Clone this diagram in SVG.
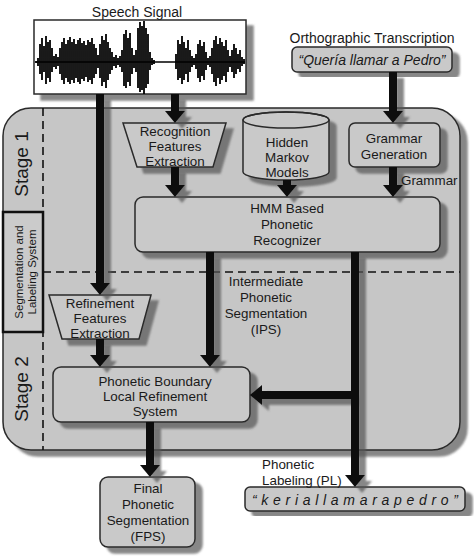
<svg xmlns="http://www.w3.org/2000/svg" width="474" height="557" viewBox="0 0 474 557">
<style>
text{font-family:"Liberation Sans",Arial,sans-serif;font-size:13.4px;fill:#1a1a1a}
.c{text-anchor:middle}
.box{fill:#c9c9c9;stroke:#2a2a2a;stroke-width:1.5}
.dash{stroke:#111;stroke-width:1.6;stroke-dasharray:8,5;fill:none}
.arr{stroke:#0d0d0d;stroke-width:8;fill:none;marker-end:url(#ah)}
</style>
<defs>
<filter id="sh" x="-10%" y="-10%" width="130%" height="130%">
<feDropShadow dx="7" dy="6" stdDeviation="1.2" flood-color="#555" flood-opacity="0.7"/>
</filter>
<marker id="ah" markerUnits="userSpaceOnUse" markerWidth="12" markerHeight="20" viewBox="0 0 12 20" refX="0.5" refY="10" orient="auto">
<path d="M0,0 L12,10 L0,20 z" fill="#0d0d0d"/>
</marker>
</defs>
<rect width="474" height="557" fill="#fff"/>

<g id="main-frame">
<rect x="3" y="108" width="457" height="342" rx="28" fill="#c6c6c6" stroke="#2a2a2a" stroke-width="1.5" filter="url(#sh)"/>
<line class="dash" x1="43" y1="108" x2="43" y2="450"/>
<line class="dash" x1="43" y1="272" x2="460" y2="272"/>
<text transform="translate(28,164) rotate(-90)" class="c" style="font-size:19px">Stage 1</text>
<text transform="translate(28,389) rotate(-90)" class="c" style="font-size:19px">Stage 2</text>
</g>

<g id="seg-label-system">
<rect x="3" y="212" width="40" height="120" fill="#cbcbcb" stroke="#111" stroke-width="2.5"/>
<text transform="translate(23,272) rotate(-90)" class="c" style="font-size:11.5px">Segmentation  and</text>
<text transform="translate(36,272) rotate(-90)" class="c" style="font-size:11.5px">Labeling System</text>
</g>

<g id="speech-signal">
<text x="137" y="17" class="c" style="font-size:14px">Speech Signal</text>
<rect x="34" y="20" width="212" height="74" fill="#fff" stroke="#2a2a2a" stroke-width="1.5" filter="url(#sh)"/>
<line x1="36" y1="62" x2="245" y2="62" stroke="#000" stroke-width="1.5"/>
<path stroke="#000" stroke-width="1.8" fill="none" d="M36,61V63M38,58V66M40,44V74M42,38V80M44,46V72M46,36V84M48,42V78M50,40V82M52,48V72M54,56V67M56,54V69M58,57V66M60,48V74M62,42V80M64,38V84M66,44V78M68,40V82M70,37V84M72,42V80M74,39V83M76,44V78M78,40V82M80,38V84M82,43V79M84,41V81M86,45V77M88,40V82M90,42V80M92,38V84M94,44V78M96,48V74M98,55V68M100,44V78M102,36V86M104,40V82M106,34V88M108,42V80M110,48V74M112,52V70M114,57V66M116,55V68M118,58V65M120,56V67M122,50V72M124,34V86M126,30V88M128,38V82M130,33V86M132,48V74M134,55V68M136,50V72M138,28V88M140,22V92M142,26V90M144,21V94M146,28V88M148,34V84M150,52V70M152,58V65M154,60V64M176,54V69M178,40V80M180,44V78M182,36V84M184,42V80M186,48V74M188,40V82M190,50V72M192,56V67M194,58V65M196,54V69M198,44V78M200,40V82M202,46V76M204,42V80M206,52V70M208,58V65M210,56V67M212,48V74M214,40V82M216,36V86M218,44V78M220,38V84M222,42V80M224,46V76M226,40V82M228,50V72M230,56V67M232,50V72M234,44V78M236,48V74M238,54V69M240,50V72M242,57V66M244,59V64"/>
</g>

<g id="ortho-transcription">
<text x="372" y="43" class="c" style="font-size:14px">Orthographic Transcription</text>
<rect x="292" y="47" width="160" height="25" rx="5" class="box" filter="url(#sh)"/>
<text x="372" y="65" class="c" style="font-style:italic;font-size:14px">“Quería llamar a Pedro”</text>
</g>

<g id="recognition-features">
<polygon points="123,123 226,123 213,167 137,167" class="box" filter="url(#sh)"/>
<text x="175" y="136" class="c">Recognition</text>
<text x="175" y="151" class="c">Features</text>
<text x="175" y="166" class="c">Extraction</text>
</g>

<g id="hmm-models">
<path d="M243,120 V172 A43,8 0 0 0 329,172 V120 A43,8 0 0 0 243,120 Z" class="box" filter="url(#sh)"/>
<ellipse cx="286" cy="120" rx="43" ry="8" fill="none" stroke="#2a2a2a" stroke-width="1.5"/>
<text x="287" y="147" class="c">Hidden</text>
<text x="287" y="162" class="c">Markov</text>
<text x="287" y="177" class="c">Models</text>
</g>

<g id="grammar-generation">
<rect x="349" y="123" width="91" height="44" rx="6" class="box" filter="url(#sh)"/>
<text x="394" y="143" class="c">Grammar</text>
<text x="394" y="159" class="c">Generation</text>
</g>

<g id="hmm-recognizer">
<rect x="135" y="197" width="305" height="55" rx="8" class="box" filter="url(#sh)"/>
<text x="287" y="213" class="c">HMM Based</text>
<text x="287" y="229" class="c">Phonetic</text>
<text x="287" y="245" class="c">Recognizer</text>
</g>

<g id="refinement-features">
<polygon points="49,295 151,295 139,339 62,339" class="box" filter="url(#sh)"/>
<text x="100" y="308" class="c">Refinement</text>
<text x="100" y="323" class="c">Features</text>
<text x="100" y="338" class="c">Extraction</text>
</g>

<g id="boundary-refinement">
<rect x="53" y="367" width="197" height="55" rx="8" class="box" filter="url(#sh)"/>
<text x="155" y="386" class="c">Phonetic Boundary</text>
<text x="155" y="401" class="c">Local Refinement</text>
<text x="155" y="416" class="c">System</text>
</g>

<g id="final-segmentation">
<rect x="100" y="477" width="95" height="70" rx="8" class="box" filter="url(#sh)"/>
<text x="148" y="493" class="c">Final</text>
<text x="148" y="509" class="c">Phonetic</text>
<text x="148" y="525" class="c">Segmentation</text>
<text x="148" y="541" class="c">(FPS)</text>
</g>

<g id="phonetic-labeling">
<rect x="245" y="487" width="220" height="24" rx="5" class="box" filter="url(#sh)"/>
<text x="252" y="505" textLength="206" lengthAdjust="spacing" style="font-style:italic;font-size:14px">“keriallamarapedro”</text>
</g>

<g id="connectors" filter="url(#sh)">
<path class="arr" d="M175,94 V111.5"/>
<path class="arr" d="M100,94 V283.5"/>
<path class="arr" d="M393,72 V111.5"/>
<path class="arr" d="M175,167 V185.5"/>
<path class="arr" d="M287,180 V185.5"/>
<path class="arr" d="M393,167 V185.5"/>
<path class="arr" d="M210,252 V355.5"/>
<path class="arr" d="M355,252 V475.5"/>
<path class="arr" d="M359,395 H261.5"/>
<path class="arr" d="M100,339 V355.5"/>
<path class="arr" d="M150,422 V465.5"/>
</g>

<g id="labels">
<text x="401" y="185">Grammar</text>
<text x="266" y="286" class="c">Intermediate</text>
<text x="266" y="302" class="c">Phonetic</text>
<text x="266" y="318" class="c">Segmentation</text>
<text x="266" y="334" class="c">(IPS)</text>
<text x="262" y="469">Phonetic</text>
<text x="262" y="485">Labeling (PL)</text>
</g>
</svg>
